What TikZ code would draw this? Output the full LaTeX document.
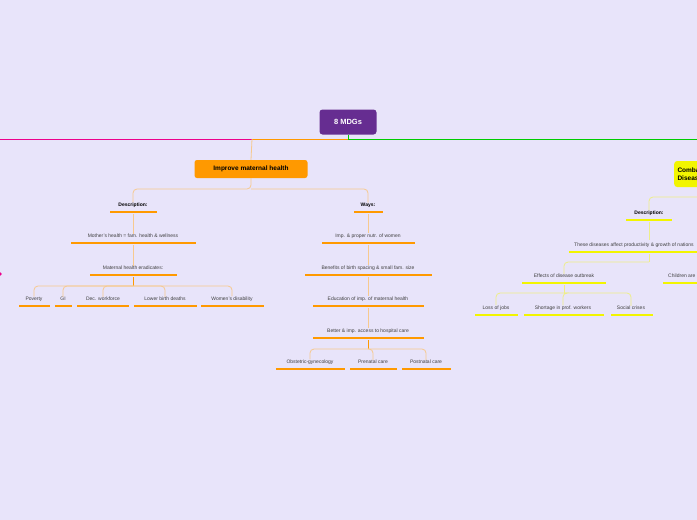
\documentclass[tikz,border=0pt]{standalone}
\usepackage{fontspec}
\setmainfont{Liberation Sans}
\definecolor{bg}{HTML}{E8E4FA}
\definecolor{org}{HTML}{FF9900}
\definecolor{lorg}{HTML}{F7C98E}
\definecolor{yel}{HTML}{F2F500}
\definecolor{lyel}{HTML}{EEEE88}
\definecolor{purp}{HTML}{662D91}
\tikzset{
  lbl/.style={font=\fontsize{5}{6}\selectfont, text=black!75, inner sep=0pt},
  blbl/.style={font=\bfseries\fontsize{5}{6}\selectfont, text=black, inner sep=0pt},
  ul/.style={line width=2.6pt, org},
  yul/.style={line width=2.6pt, yel},
  con/.style={lorg, line width=0.8pt, rounded corners=4pt},
  ycon/.style={lyel, line width=0.8pt, rounded corners=4pt}
}
\begin{document}
\begin{tikzpicture}[x=1pt,y=-1pt]
\fill[bg] (0,0) rectangle (697,520);
\useasboundingbox (0,0) rectangle (697,520);
\clip (0,0) rectangle (697,520);
% top line
\draw[magenta, line width=0.7pt] (0,139) -- (252,139);
\draw[org, line width=0.7pt] (252,139) -- (348,139);
\draw[green!80!black, line width=0.7pt] (348,139) -- (697,139);
\fill[magenta] (0,274) circle (1.8);
\node[fill=purp, rounded corners=3pt, minimum width=57pt, minimum height=25pt, text=white, font=\bfseries\fontsize{7.5}{9}\selectfont] (root) at (348,122) {8 MDGs};
\draw[green!80!black, line width=0.7pt] (root.south) -- (348,139);
% maternal
\node[fill=org, rounded corners=2.5pt, minimum width=113pt, minimum height=18pt, font=\bfseries\fontsize{6.5}{8}\selectfont] (mat) at (251,169) {Improve maternal health};
\draw[con] (252,139) -- (mat.north);
\coordinate (mb) at (251,189);
\node[blbl] (d1) at (133,205) {Description:};
\node[blbl] (w1) at (368,205) {Ways:};
\draw[con] (mat.south) -- (mb) -| (d1.north);
\draw[con] (mb) -| (w1.north);
\draw[ul] (110,212) -- (157,212);
\draw[ul] (354,212) -- (383,212);
\node[lbl] (d2) at (133,236) {Mother's health = fam. health \& wellness};
\draw[ul] (71,243) -- (196,243);
\node[lbl] (d3) at (133,268) {Maternal health eradicates:};
\draw[ul] (90,275) -- (177,275);
\draw[con] (133,214) -- (d2.north);
\draw[con] (133,245) -- (d3.north);
\node[lbl] (p1) at (34,299) {Poverty};
\node[lbl] (p2) at (63,299) {GI};
\node[lbl] (p3) at (103,299) {Dec. workforce};
\node[lbl] (p4) at (165,299) {Lower birth deaths};
\node[lbl] (p5) at (232,299) {Women's disability};
\draw[ul] (19,306) -- (50,306);
\draw[ul] (55,306) -- (72,306);
\draw[ul] (77,306) -- (129,306);
\draw[ul] (134,306) -- (197,306);
\draw[ul] (201,306) -- (264,306);
\coordinate (eb) at (133,286);
\draw[org, line width=0.7pt] (133,277) -- (eb);
\foreach \n in {p1,p2,p3,p4,p5}{\draw[con] (eb) -| (\n.north);}
% ways
\node[lbl] (w2) at (368,236) {Imp. \& proper nutr. of women};
\draw[ul] (322,243) -- (415,243);
\node[lbl] (w3) at (368,268) {Benefits of birth spacing \& small fam. size};
\draw[ul] (305,275) -- (432,275);
\node[lbl] (w4) at (368,299) {Education of imp. of maternal health};
\draw[ul] (313,306) -- (424,306);
\node[lbl] (w5) at (368,331) {Better \& imp. access to hospital care};
\draw[ul] (313,338) -- (424,338);
\draw[con] (368,214) -- (w2.north);
\draw[con] (368,245) -- (w3.north);
\draw[con] (368,277) -- (w4.north);
\draw[con] (368,308) -- (w5.north);
\node[lbl] (c1) at (310,362) {Obstetric-gynecology};
\node[lbl] (c2) at (373,362) {Prenatal care};
\node[lbl] (c3) at (426,362) {Postnatal care};
\draw[ul] (276,369) -- (345,369);
\draw[ul] (350,369) -- (397,369);
\draw[ul] (402,369) -- (451,369);
\coordinate (hb) at (368,349);
\draw[org, line width=0.7pt] (368,340) -- (hb);
\foreach \n in {c1,c2,c3}{\draw[con] (hb) -| (\n.north);}
% yellow
\node[fill=yel, rounded corners=3pt, minimum height=26pt, anchor=west, align=left, font=\bfseries\fontsize{6.5}{8}\selectfont] (dis) at (674,174) {Combat Communicable\\Diseases};
\node[blbl] (y1) at (649,213) {Description:};
\draw[yul] (626,220) -- (672,220);
\draw[ycon] (700,197) -| (y1.north);
\node[lbl, anchor=west] (y2) at (574,245) {These diseases affect productivity \& growth of nations};
\draw[yul] (569,252) -- (697,252);
\draw[ycon] (649,222) -- (649,240);
\coordinate (yb) at (649,262);
\draw[ycon] (649,254) -- (yb);
\node[lbl] (y3) at (564,276) {Effects of disease outbreak};
\draw[yul] (522,283) -- (606,283);
\node[lbl, anchor=west] (y4) at (668,276) {Children are most affected};
\draw[yul] (663,283) -- (697,283);
\draw[ycon] (yb) -| (y3.north);
\coordinate (zb) at (564,293);
\draw[ycon] (564,285) -- (zb);
\node[lbl] (z1) at (496,308) {Loss of jobs};
\node[lbl] (z2) at (563,308) {Shortage in prof. workers};
\node[lbl] (z3) at (631,308) {Social crises};
\draw[yul] (475,315) -- (518,315);
\draw[yul] (524,315) -- (604,315);
\draw[yul] (611,315) -- (653,315);
\foreach \n in {z1,z2,z3}{\draw[ycon] (zb) -| (\n.north);}
\end{tikzpicture}
\end{document}
